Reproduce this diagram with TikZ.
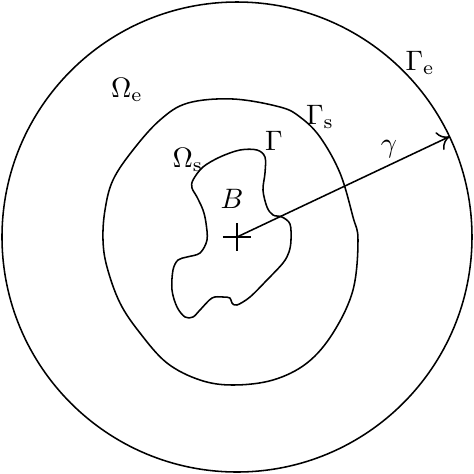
\documentclass[tikz,border=0pt]{standalone}
\usetikzlibrary{calc,arrows.meta}
\begin{document}
\begin{tikzpicture}[x=0.0125cm,y=-0.0125cm,
  curve/.style={line width=0.55pt, line join=round},
  lbl/.style={inner sep=0pt}]
\useasboundingbox (0,0) rectangle (474,474);
\coordinate (O) at (237,237);
\coordinate (E) at (449.5,136.6);
% outer circle Gamma_e
\draw[curve] (O) circle[radius=235];
% middle curve Gamma_s
\draw[curve] plot[smooth cycle, tension=0.6] coordinates {
 (233,99) (188,103) (160,120) (133,150) (113,180) (105,210) (103,240)
 (107,267) (120,303) (140,333) (167,363) (200,380) (233,385) (273,380)
 (307,363) (333,333) (353,290) (358,240) (353,217) (340,173) (320,137)
 (300,117) (280,107)};
% inner body Gamma
\draw[curve] plot[smooth cycle, tension=0.55] coordinates {
 (240,150) (257,150) (265,157) (265,173) (263,190) (267,207) (273,215)
 (282,217) (290,224) (291,240) (289,252) (283,263) (267,280) (250,297)
 (237,305) (232,303) (230,298) (223,297) (212,298) (200,310) (193,317)
 (185,317) (177,307) (172,290) (173,270) (178,260) (187,257) (200,253)
 (207,240) (206,223) (203,210) (197,197) (192,188) (193,180) (203,167)
 (220,157)};
% centre mark
\draw[line width=0.55pt] ($(O)+(-14,0)$) -- ($(O)+(14,0)$);
\draw[line width=0.55pt] ($(O)+(0,-14)$) -- ($(O)+(0,14)$);
% radius arrow
\draw[line width=0.55pt,-{To[length=4pt,width=7pt]}] (O) -- (E);
% labels
\node[lbl] (Oe) at (127,90) {$\Omega_{\mathrm{e}}$};
\node[lbl] (Ge) at (420,63) {$\Gamma_{\mathrm{e}}$};
\node[lbl] (Gs) at (320,117) {$\Gamma_{\mathrm{s}}$};
\node[lbl] (G) at (274,141) {$\Gamma$};
\node[lbl] (Os) at (188,160) {$\Omega_{\mathrm{s}}$};
\node[lbl] (B) at (232,199) {$B$};
\node[lbl] (ga) at (389,149) {$\gamma$};
\end{tikzpicture}
\end{document}
